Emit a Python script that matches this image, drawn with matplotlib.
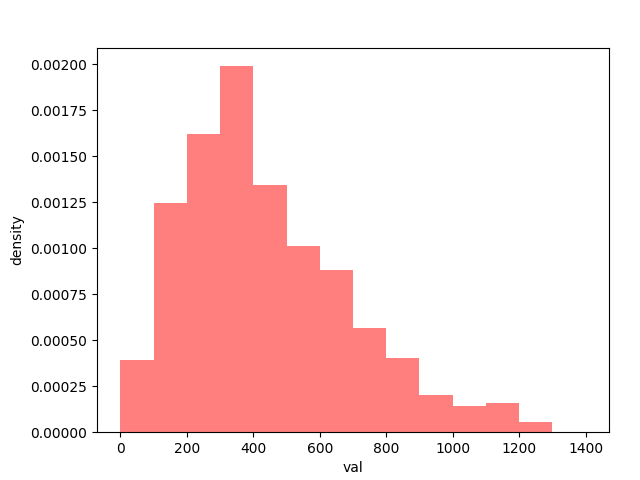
import numpy as np
import matplotlib
matplotlib.use("Agg")
import matplotlib.pyplot as plt

# bin edges and density values
bin_edges = [0, 100, 200, 300, 400, 500, 600, 700, 800, 900, 1000, 1100, 1200, 1300, 1400]
density = [0.00039, 0.001245, 0.00162, 0.00199, 0.001342, 0.00101, 0.00088,
           0.000565, 0.000402, 0.000201, 0.000141, 0.000158, 0.000054, 0.0]

fig, ax = plt.subplots(figsize=(6.4, 4.8), dpi=100)
fig.subplots_adjust(left=97/640, right=609/640, top=0.9, bottom=0.1)

ax.hist(bin_edges[:-1], bins=bin_edges, weights=density, color='red', alpha=0.5)

ax.set_xlabel('val')
ax.set_ylabel('density')
fig.savefig('out.png')
